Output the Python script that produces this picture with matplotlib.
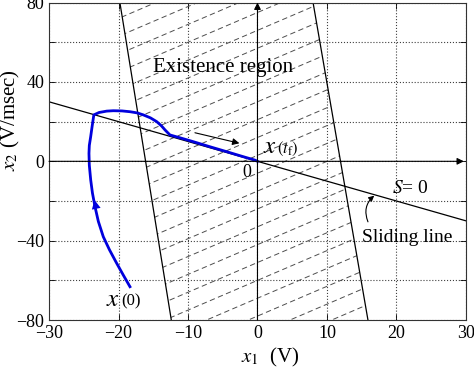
import numpy as np
import matplotlib
matplotlib.use("Agg")
import matplotlib.pyplot as plt
from matplotlib.patches import Polygon
from matplotlib.ticker import FixedLocator

plt.rcParams['font.family'] = ['Liberation Serif', 'DejaVu Serif']
plt.rcParams['mathtext.fontset'] = 'stix'

# Sliding line S=0 (x2 = -x1)
slide_x1 = [-30, 30]
slide_x2 = [30, -30]

# Existence region boundaries
left_bx1 = [-19.8, -12.4]
left_bx2 = [80, -80]
right_bx1 = [8.0, 15.9]
right_bx2 = [80, -80]

# Blue trajectory
traj_x1 = [-18.35, -19.3, -20.26, -21.3, -22.19, -22.9, -23.38, -23.75, -24.0, -24.2,
           -24.25, -24.2, -24.0, -23.8, -23.55, -22.8, -21.7, -20.75, -19.5, -18.35,
           -17.3, -16.43, -15.4, -14.5, -13.8, -13.3, -12.6,
           -10.9, -9.24, -6.8, -4.43, -2.3, -0.36, 0.0]
traj_x2 = [-63.2, -57.4, -51.4, -44.6, -38.0, -30.3, -22.9, -16.0, -9.4, -2.0,
           4.0, 8.0, 12.5, 17.5, 23.4, 24.6, 25.3, 25.5, 25.4, 25.0,
           24.4, 23.4, 21.9, 20.0, 17.8, 15.8, 13.3,
           11.6, 9.9, 7.3, 4.85, 2.6, 0.6, 0.0]

fig = plt.figure(figsize=(4.74, 3.70), dpi=100)
ax = fig.add_axes([0.1034, 0.135, 0.8796, 0.858])
ax.set_xlim(-30, 30)
ax.set_ylim(-80, 80)

ax.xaxis.set_major_locator(FixedLocator([-30, -20, -10, 0, 10, 20, 30]))
ax.yaxis.set_major_locator(FixedLocator([-80, -40, 0, 40, 80]))
ax.yaxis.set_minor_locator(FixedLocator([-60, -20, 20, 60]))
ax.set_yticklabels(['\u221280', '\u221240', '0', '40', '80'])
ax.set_xticklabels(['\u221230', '\u221220', '\u221210', '0', '10', '20', '30'])
ax.tick_params(which='both', direction='in', top=True, right=True, labelsize=13, length=4, width=0.6)
ax.tick_params(which='minor', length=4)
ax.grid(which='both', linestyle=':', color='0.25', linewidth=0.8)
for s in ax.spines.values():
    s.set_linewidth(0.8)
    s.set_color('0.2')

# Existence region hatching
poly = Polygon([(left_bx1[0], left_bx2[0]), (right_bx1[0], right_bx2[0]),
                (right_bx1[1], right_bx2[1]), (left_bx1[1], left_bx2[1])],
               closed=True, facecolor='none', edgecolor='none')
ax.add_patch(poly)
xx = np.array([-30, 30])
for c in np.arange(-150, 150, 9.0):
    ln, = ax.plot(xx, 1.5 * xx + c, color='0.3', lw=0.7, dashes=(5.5, 3.5))
    ln.set_clip_path(poly)

ax.plot(left_bx1, left_bx2, color='k', lw=0.9)
ax.plot(right_bx1, right_bx2, color='k', lw=0.9)
ax.plot(slide_x1, slide_x2, color='k', lw=0.9)

# Coordinate axes with arrows
ax.annotate('', xy=(0, 80), xytext=(0, -80),
            arrowprops=dict(arrowstyle='-|>', color='k', lw=0.8, mutation_scale=10, shrinkA=0, shrinkB=0))
ax.annotate('', xy=(29.7, 0), xytext=(-30, 0),
            arrowprops=dict(arrowstyle='-|>', color='k', lw=0.8, mutation_scale=10, shrinkA=0, shrinkB=0))

ax.plot(traj_x1, traj_x2, color='#0000dd', lw=2)
ax.annotate('', xy=(-23.45, -19.5), xytext=(-23.0, -27.5),
            arrowprops=dict(arrowstyle='-|>', color='#0000dd', lw=0, mutation_scale=16, shrinkA=0, shrinkB=0))

# Direction arrow
ax.annotate('', xy=(-2.6, 9.1), xytext=(-9.0, 14.4),
            arrowprops=dict(arrowstyle='-|>', color='k', lw=0.8, mutation_scale=10, shrinkA=0, shrinkB=0))

# Sliding line arrow
ax.annotate('', xy=(16.8, -17.3), xytext=(15.9, -30.5),
            arrowprops=dict(arrowstyle='-|>', color='k', lw=0.8, mutation_scale=8, shrinkA=0, shrinkB=0,
                            connectionstyle='arc3,rad=-0.35'))

ax.text(-4.9, 47.5, 'Existence region', fontsize=15, ha='center', va='center')
ax.text(0.8, 7.0, r'$x$', fontsize=18, ha='left', va='center')
ax.text(2.8, 6.0, r'$(t_{\rm f})$', fontsize=12, ha='left', va='center')
ax.text(-1.6, -5.8, '0', fontsize=13, ha='center', va='center')
ax.text(19.3, -13.5, r'$S$= 0', fontsize=14, ha='left', va='center')
ax.text(15.0, -38.3, 'Sliding line', fontsize=14, ha='left', va='center')
ax.text(-21.8, -70.0, r'$x$', fontsize=18, ha='left', va='center')
ax.text(-19.6, -70.8, '(0)', fontsize=12, ha='left', va='center')

fig.text(270 / 474, 1 - 357 / 370, r'$x_1$  (V)', fontsize=15, ha='center', va='center')
fig.text(10 / 474, 1 - 120 / 370, r'$x_2$ (V/msec)', fontsize=15, ha='center', va='center', rotation=90)

fig.savefig('out.png', dpi=100)
